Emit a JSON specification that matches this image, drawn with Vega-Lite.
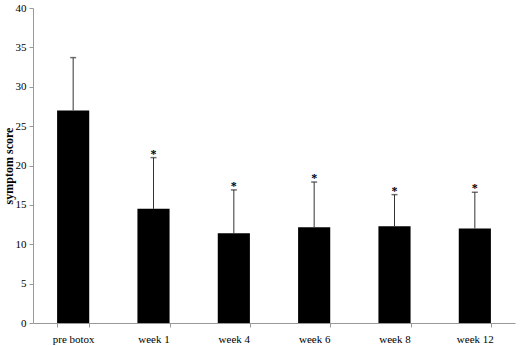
{
  "$schema": "https://vega.github.io/schema/vega-lite/v6.json",
  "width": 482,
  "height": 315,
  "autosize": "none",
  "padding": {"left": 33, "top": 8, "right": 5, "bottom": 23},
  "background": "white",
  "config": {
    "view": {"stroke": null},
    "font": "Liberation Serif",
    "axisY": {
      "titleFont": "Liberation Serif",
      "titleFontSize": 12,
      "titleFontWeight": "bold",
      "titleColor": "#000",
      "titlePadding": 0,
      "labelOverlap": false,
      "labelFont": "Liberation Serif",
      "labelFontSize": 11,
      "labelColor": "#000",
      "labelPadding": 3,
      "tickSize": 4,
      "tickColor": "#999",
      "domainColor": "#999",
      "grid": false
    }
  },
  "data": {
    "values": [
      {"cat": "pre botox", "mean": 27.0, "upper": 33.7, "star": ""},
      {"cat": "week 1", "mean": 14.5, "upper": 21.0, "star": "*"},
      {"cat": "week 4", "mean": 11.4, "upper": 16.9, "star": "*"},
      {"cat": "week 6", "mean": 12.15, "upper": 17.9, "star": "*"},
      {"cat": "week 8", "mean": 12.3, "upper": 16.3, "star": "*"},
      {"cat": "week 12", "mean": 12.0, "upper": 16.6, "star": "*"}
    ]
  },
  "encoding": {
    "x": {
      "field": "cat",
      "type": "nominal",
      "sort": null,
      "scale": {"paddingInner": 0.6, "paddingOuter": 0.3},
      "axis": {
        "title": null,
        "labelAngle": 0,
        "labelFont": "Liberation Serif",
        "labelFontSize": 11,
        "labelColor": "#000",
        "labelPadding": 6,
        "tickBand": "extent",
        "tickSize": 4,
        "tickColor": "#999",
        "domainColor": "#999"
      }
    }
  },
  "layer": [
    {
      "mark": {"type": "bar", "color": "#000"},
      "encoding": {
        "y": {
          "field": "mean",
          "type": "quantitative",
          "scale": {"domain": [0, 40], "nice": false},
          "axis": {"title": "symptom score", "values": [0, 5, 10, 15, 20, 25, 30, 35, 40]}
        }
      }
    },
    {
      "mark": {"type": "rule", "color": "#333", "strokeWidth": 1},
      "encoding": {
        "y": {"field": "mean", "type": "quantitative", "axis": {"title": "symptom score", "values": [0, 5, 10, 15, 20, 25, 30, 35, 40]}},
        "y2": {"field": "upper"}
      }
    },
    {
      "mark": {"type": "tick", "color": "#333", "size": 6, "thickness": 1.5, "orient": "horizontal"},
      "encoding": {
        "y": {"field": "upper", "type": "quantitative", "axis": {"title": "symptom score", "values": [0, 5, 10, 15, 20, 25, 30, 35, 40]}}
      }
    },
    {
      "mark": {"type": "text", "fontSize": 12, "fontWeight": "bold", "baseline": "middle", "dy": -4, "color": "#000"},
      "encoding": {
        "y": {"field": "upper", "type": "quantitative", "axis": {"title": "symptom score", "values": [0, 5, 10, 15, 20, 25, 30, 35, 40]}},
        "text": {"field": "star"}
      }
    }
  ]
}
